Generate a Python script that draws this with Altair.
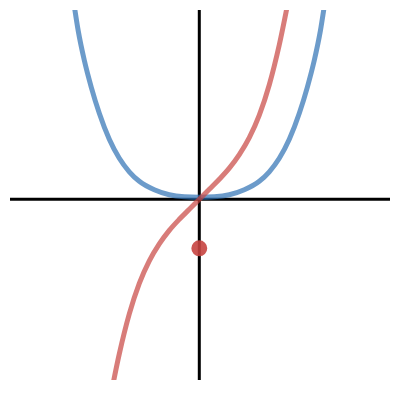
import altair as alt
import pandas as pd

# Curve readings (units: 1 unit = 100 px in the reference)
blue_x = [-1.26, -1.21, -1.15, -1.08, -1.00, -0.90, -0.80, -0.70, -0.60, -0.45, -0.30, -0.15, 0.0,
          0.15, 0.30, 0.45, 0.60, 0.70, 0.80, 0.90, 1.00, 1.08, 1.15, 1.21, 1.26]
blue_y = [2.0, 1.68, 1.39, 1.12, 0.86, 0.60, 0.41, 0.275, 0.18, 0.095, 0.045, 0.025, 0.02,
          0.025, 0.045, 0.095, 0.18, 0.275, 0.41, 0.60, 0.86, 1.12, 1.39, 1.68, 2.0]

red_x = [-0.9, -0.8, -0.7, -0.6, -0.5, -0.4, -0.3, -0.2, -0.1, 0.0,
         0.1, 0.2, 0.3, 0.4, 0.5, 0.6, 0.7, 0.8, 0.9]
red_y = [-2.036, -1.546, -1.146, -0.841, -0.616, -0.446, -0.311, -0.20, -0.10, 0.0,
         0.10, 0.20, 0.311, 0.446, 0.616, 0.841, 1.146, 1.546, 2.036]

point_x = [0.0]
point_y = [-0.49]

W, H = 380, 370
X_DOMAIN = [-1.893, -1.893 + W / 100]
Y_DOMAIN = [1.893 - H / 100, 1.893]

blue_df = pd.DataFrame({"x": blue_x, "y": blue_y})
red_df = pd.DataFrame({"x": red_x, "y": red_y})
pt_df = pd.DataFrame({"x": point_x, "y": point_y})

xs = alt.Scale(domain=X_DOMAIN, nice=False, zero=False)
ys = alt.Scale(domain=Y_DOMAIN, nice=False, zero=False)

base_x = alt.X("x:Q", scale=xs, axis=None)
base_y = alt.Y("y:Q", scale=ys, axis=None)

hline = alt.Chart(pd.DataFrame({"y": [0.0]})).mark_rule(color="black", strokeWidth=3).encode(
    y=alt.Y("y:Q", scale=ys, axis=None)
)
vline = alt.Chart(pd.DataFrame({"x": [0.0]})).mark_rule(color="black", strokeWidth=3).encode(
    x=alt.X("x:Q", scale=xs, axis=None)
)

blue = alt.Chart(blue_df).mark_line(
    color="#2d70b3", opacity=0.7, strokeWidth=5, interpolate="monotone", clip=True
).encode(x=base_x, y=base_y)

red = alt.Chart(red_df).mark_line(
    color="#c74440", opacity=0.7, strokeWidth=5, interpolate="monotone", clip=True
).encode(x=base_x, y=base_y)

pt = alt.Chart(pt_df).mark_circle(color="#c74440", opacity=0.9, size=254).encode(
    x=base_x, y=base_y
)

chart = alt.layer(hline, vline, blue, red, pt).properties(
    width=W, height=H, padding=0, background="white"
).configure_view(strokeWidth=0)

chart.save("out.html", embed_options={"renderer": "svg", "actions": False})
